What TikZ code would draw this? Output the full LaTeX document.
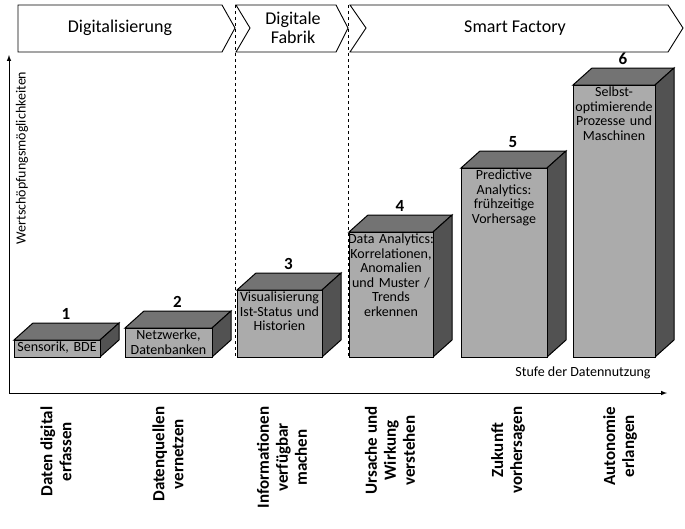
\documentclass[tikz,border=0pt]{standalone}
\usepackage{fontspec}
\setmainfont{Carlito}
\begin{document}
\begin{tikzpicture}[x=1pt,y=-1pt,
 chev/.style={draw,line width=0.9pt,fill=white},
 front/.style={draw,line width=1pt,fill=black!33},
 topf/.style={draw,line width=1pt,fill=black!55},
 sidef/.style={draw,line width=1pt,fill=black!68},
 btxt/.style={font=\fontsize{14}{14.5}\selectfont,align=center,inner sep=0pt,text width=#1},
 num/.style={font=\bfseries\fontsize{17}{17}\selectfont},
 blab/.style={rotate=90,anchor=east,align=center,font=\bfseries\fontsize{17}{19}\selectfont},
 sepline/.style={dashed,line width=0.6pt}]
\useasboundingbox (0,0) rectangle (685,528);
% chevrons
\draw[chev] (18,5) -- (222,5) -- (235,28) -- (222,52) -- (18,52) -- cycle;
\draw[chev] (236,5) -- (336,5) -- (348,28) -- (336,52) -- (236,52) -- (250,28) -- cycle;
\draw[chev] (350,5) -- (668,5) -- (683,28) -- (668,52) -- (350,52) -- (366,28) -- cycle;
\node[font=\fontsize{18}{18}\selectfont] (c1) at (120,28) {Digitalisierung};
\node[font=\fontsize{18}{19}\selectfont,align=center] (c2) at (293,28) {Digitale\\Fabrik};
\node[font=\fontsize{18}{18}\selectfont] (c3) at (515,28) {Smart Factory};
\draw[sepline] (235,5) -- (235,358);
\draw[sepline] (348,5) -- (348,358);
% axes
\coordinate (o) at (9,393);
\coordinate (ytop) at (9,55);
\coordinate (xend) at (667,393);
\draw[line width=1pt,-latex] (o) -- (ytop);
\draw[line width=1pt,-latex] (o) -- (xend);
\node[rotate=90,font=\fontsize{14}{14}\selectfont] (yl) at (22,158) {Wertschöpfungsmöglichkeiten};
\node[font=\fontsize{14}{14}\selectfont] (xl) at (583,373) {Stufe der Datennutzung};
% boxes
\foreach \l/\r/\t/\n/\txt/\w in {
 14/100/340/1/{Sensorik, BDE}/88,
 125/212/328/2/{Netzwerke,\\Datenbanken}/88,
 237/322/290/3/{Visualisierung\\Ist-Status und\\Historien}/88,
 349/433/232/4/{Data Analytics:\\Korrelationen,\\Anomalien\\und Muster /\\Trends\\erkennen}/88,
 461/547/168/5/{Predictive\\Analytics:\\frühzeitige\\Vorhersage}/84,
 573/655/85/6/{Selbst-\\optimierende\\Prozesse und\\Maschinen}/82}{
 \draw[topf] (\l,\t) -- (\l+19,\t-17) -- (\r+19,\t-17) -- (\r,\t) -- cycle;
 \draw[sidef] (\r,\t) -- (\r+19,\t-17) -- (\r+19,340) -- (\r,357) -- cycle;
 \draw[front] (\l,\t) rectangle (\r,357);
 \node[num] (n\n) at ({(\l+\r)/2+9},\t-26) {\n};
 \node[btxt=\w,anchor=north] (b\n) at ({(\l+\r)/2},\t+2) {\txt};
}
% bottom labels
\node[blab] (l1) at (56,403) {Daten digital\\erfassen};
\node[blab] (l2) at (168,403) {Datenquellen\\vernetzen};
\node[blab] (l3) at (282,403) {Informationen\\verfügbar\\machen};
\node[blab] (l4) at (390,403) {Ursache und\\Wirkung\\verstehen};
\node[blab] (l5) at (508,403) {Zukunft\\vorhersagen};
\node[blab] (l6) at (620,403) {Autonomie\\erlangen};
\end{tikzpicture}
\end{document}
